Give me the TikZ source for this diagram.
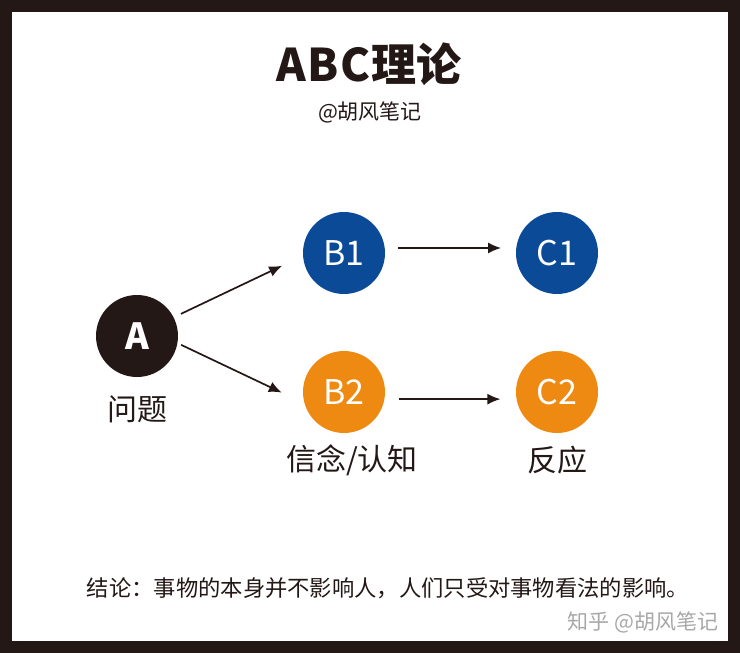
\documentclass[tikz,border=0pt]{standalone}
\usepackage{fontspec}
\setmainfont{Noto Sans CJK SC}
\usetikzlibrary{arrows.meta,positioning,calc}
\definecolor{inkdark}{HTML}{231815}
\definecolor{beliefblue}{HTML}{0A4A96}
\definecolor{beliefora}{HTML}{EE8A12}
\definecolor{markgray}{HTML}{A8A8A8}
\tikzset{
    stage/.style={circle, minimum size=82pt, inner sep=0pt, text=white, font=\fontsize{34}{34}\selectfont},
    flow/.style={-{Latex[length=13pt, width=11pt]}, line width=1.7pt, inkdark},
    caption/.style={font=\fontsize{30}{30}\selectfont, text=inkdark, inner sep=0pt}
}

\begin{document}
\begin{tikzpicture}[x=1pt, y=-1pt, node distance=2cm, on grid]
    \useasboundingbox (0,0) rectangle (740,653);
    % frame
    \fill[inkdark] (0,0) rectangle (740,653);
    \fill[white] (12,12) rectangle (728,641);
    % heading
    \node[font=\fontsize{45}{45}\selectfont\bfseries, text=inkdark] (title) at (369,64) {A\hspace{2pt}B\hspace{2pt}C\hspace{1pt}理论};
    \node[font=\fontsize{21}{21}\selectfont, text=inkdark] (author) at (370,112) {@胡风笔记};
    % circles
    \node[stage, fill=inkdark, font=\fontsize{36}{36}\selectfont\bfseries] (A) at (137,336) {A};
    \node[stage, fill=beliefblue, above right=83pt and 207pt of A] (B1) {B1};
    \node[stage, fill=beliefora, below=139pt of B1] (B2) {B2};
    \node[stage, fill=beliefblue, right=213pt of B1] (C1) {C1};
    \node[stage, fill=beliefora, below=139pt of C1] (C2) {C2};
    % labels
    \node[caption, below=73pt of A] (issue) {问题};
    \node[caption, below right=68pt and 8pt of B2] (belief) {信念/认知};
    \node[caption, below=68pt of C2] (react) {反应};
    % arrows
    \draw[flow, shorten <=8pt, shorten >=23pt] (A.27) -- (B1.184);
    \draw[flow, shorten <=4pt, shorten >=25pt] (A.-10) -- (B2.196);
    \draw[flow, shorten <=13pt, shorten >=15pt] (B1.7) -- (C1.173);
    \draw[flow, shorten <=14pt, shorten >=16pt] (B2.-10) -- (C2.190);
    % footer
    \node[font=\fontsize{22.3}{22.3}\selectfont, text=inkdark] (summary) at (388,588) {结论：事物的本身并不影响人，人们只受对事物看法的影响。};
    \node[font=\fontsize{21}{21}\selectfont, text=markgray] (mark) at (643,622) {知乎 @胡风笔记};
\end{tikzpicture}
\end{document}
